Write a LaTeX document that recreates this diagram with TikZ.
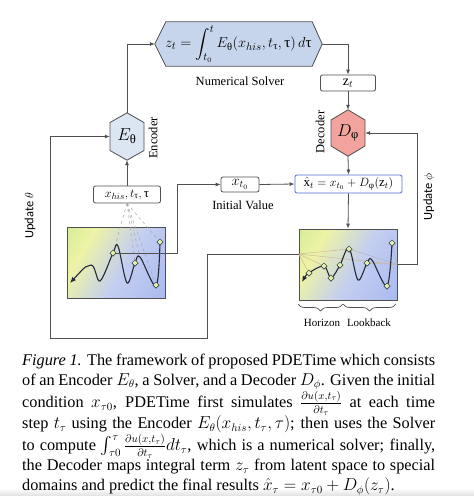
\documentclass[tikz,border=0pt]{standalone}
\usepackage{amsmath}
\usepackage{fontspec}
\setmainfont{Liberation Serif}
\newfontfamily\sansf{Carlito}
\usetikzlibrary{arrows.meta,decorations.pathreplacing,shapes.geometric,calc}
\pgfdeclarelayer{background}
\pgfsetlayers{background,main}
\definecolor{lnc}{HTML}{505050}
\definecolor{solverfill}{HTML}{C7D5EC}
\definecolor{encfill}{HTML}{DCE6F3}
\definecolor{decfill}{HTML}{F2A39D}
\definecolor{xhblue}{HTML}{4C6FD5}
\definecolor{mkfill}{HTML}{DDEFAA}
\definecolor{curvec}{HTML}{252A3A}
\definecolor{pgA}{HTML}{BCE389}
\definecolor{pgB}{HTML}{EEF3A6}
\definecolor{pgC}{HTML}{C3CEF0}
\definecolor{pgD}{HTML}{9DAFEF}
\definecolor{faintc}{HTML}{CDB59A}
\pgfdeclarehorizontalshading{plotshade}{100bp}{color(0bp)=(pgA); color(30bp)=(pgB); color(55bp)=(pgC); color(100bp)=(pgD)}
\newcommand{\upth}{\text{θ}}
\newcommand{\upta}{\text{τ}}
\newcommand{\upph}{\text{φ}}
\tikzset{
  conn/.style={draw=lnc, line width=0.8pt, -{Latex[length=5pt,width=4pt]}},
  box/.style={draw=lnc, line width=0.8pt, rounded corners=2pt, fill=white, inner sep=0pt, font=\fontsize{14}{16}\selectfont},
  hexn/.style={inner sep=0pt, minimum width=34pt, font=\fontsize{18}{20}\selectfont},
  hexpath/.style={draw=lnc, line width=0.8pt},
  solv/.style={inner sep=0pt, minimum width=167pt, minimum height=44pt, font=\fontsize{15}{17}\selectfont},
  lbl/.style={inner sep=0pt, font=\fontsize{12.5}{14}\selectfont},
  smalllbl/.style={inner sep=0pt, font=\fontsize{11}{13}\selectfont},
  upd/.style={inner sep=0pt, font=\sansf\fontsize{12.5}{14}\selectfont},
  plotbox/.style={draw=lnc, line width=0.8pt, minimum width=98pt, minimum height=71pt, inner sep=0pt, shade, shading=plotshade, shading angle=-30},
  curve/.style={draw=curvec, line width=1.1pt},
  mk/.style={diamond, draw=curvec, line width=0.5pt, fill=mkfill, inner sep=0pt, minimum size=6.5pt},
  fanl/.style={draw=gray!70, line width=0.5pt, dashed},
  faint/.style={draw=faintc, line width=0.45pt},
  brc/.style={draw=lnc, line width=0.7pt, decorate, decoration={brace, amplitude=7pt, mirror}}
}
\begin{document}
\begin{tikzpicture}[x=1pt, y=-1pt]
\useasboundingbox (0,0) rectangle (474,496);
\shade[top color=white, bottom color=black!12] (0,488) rectangle (474,496);

% solver
\node[solv] (S) at (238.5,44) {$\displaystyle z_t=\int_{t_0}^{t}E_{\upth}(x_{his},t_{\upta},\upta)\,d\upta$};
\node[lbl] (numsol) at (240,81) {Numerical Solver};

% encoder / decoder
\node[hexn, minimum height=47pt] (E) at (127,136.5) {$E_{\upth}$};
\node[lbl, rotate=90] (encl) at (153,138) {Encoder};
\node[hexn, minimum height=46pt] (D) at (348,133) {$D_{\upph}$};
\node[lbl, rotate=90] (decl) at (320,132) {Decoder};

\begin{pgfonlayer}{background}
\draw[hexpath, fill=solverfill] (S.west) -- ($(S.north west)+(11,0)$) -- ($(S.north east)+(-10,0)$) -- (S.east) -- ($(S.south east)+(-10,0)$) -- ($(S.south west)+(11,0)$) -- cycle;
\draw[hexpath, fill=encfill] (E.north) -- ($(E.center)+(17,-14)$) -- ($(E.center)+(17,14)$) -- (E.south) -- ($(E.center)+(-17,14)$) -- ($(E.center)+(-17,-14)$) -- cycle;
\draw[hexpath, fill=decfill] (D.north) -- ($(D.center)+(17,-13)$) -- ($(D.center)+(17,13)$) -- (D.south) -- ($(D.center)+(-17,13)$) -- ($(D.center)+(-17,-13)$) -- cycle;
\end{pgfonlayer}

% boxes
\node[box, minimum width=55pt, minimum height=16pt] (zt) at (348,83) {$\mathrm{z}_t$};
\node[box, minimum width=67pt, minimum height=17pt, font=\fontsize{13}{15}\selectfont] (xin) at (127,194.5) {$x_{his},t_{\upta},\upta$};
\node[box, minimum width=38pt, minimum height=15pt] (x0) at (240,184.5) {$x_{t_0}$};
\node[lbl] (initv) at (243,205) {Initial Value};
\node[box, draw=xhblue, minimum width=107pt, minimum height=18pt, font=\fontsize{13}{15}\selectfont] (xh) at (348.5,184) {$\hat{\mathrm{x}}_t=x_{t_0}+D_{\upph}(\mathrm{z}_t)$};

% plots
\node[plotbox] (LP) at (116,262.5) {};
\node[plotbox] (RP) at (348,264.5) {};

% markers (positions)
\coordinate (a1) at (113,253);
\coordinate (a2) at (135,263);
\coordinate (a3) at (156,285);
\coordinate (a4) at (160,242);
\coordinate (b1) at (309,273);
\coordinate (b2) at (324,266);
\coordinate (b3) at (331,278);
\coordinate (b4) at (340,265);
\coordinate (b5) at (349,249);
\coordinate (b6) at (367,263);
\coordinate (b7) at (387,286);
\coordinate (b8) at (392,243);
\coordinate (lp) at ($(RP.west)+(0,-10.5)$);

% fan lines
\draw[fanl] (xin.south) -- (a1);
\draw[fanl] (xin.south) -- (a2);
\draw[fanl] (xin.south) -- (a3);
\draw[fanl] (xin.south) -- (a4);
\draw[fanl] (xin.south) -- (140,257);
\draw[faint] (lp) -- (b1);
\draw[faint] (lp) -- (b2);
\draw[faint] (lp) -- (b5);
\draw[faint] (lp) -- (RP.east);
\draw[faint, draw=gray!60] (b5) -- (RP.east);
\draw[faint, draw=gray!60] (b8) -- (RP.east);
\draw[faint] (b6) -- (RP.east);

% curves
\draw[curve, {Latex[length=6pt,width=5pt]}-] plot[smooth, tension=0.55] coordinates {(70,283) (91,265) (100,281) (113,253) (118,246) (127,283) (135,263) (140,257) (156,286) (160,242)};
\draw[curve, {Latex[length=6pt,width=5pt]}-] plot[smooth, tension=0.55] coordinates {(302,282) (309,273) (324,266) (331,278) (340,265) (349,248) (358,280) (367,263) (372,260) (387,286) (392,243)};

% connector from left plot to initial value
\coordinate (j1) at (177,253);
\draw[conn] (a1) -- (j1) |- (x0.west);

% markers
\foreach \m in {a1,a2,a3,a4,b1,b2,b3,b4,b5,b6,b7,b8} \node[mk] (mk\m) at (\m) {};

% connectors
\draw[conn] (E.north) |- (S.west);
\draw[conn] (S.east) -| (zt.north);
\draw[conn] (zt.south) -- (D.north);
\draw[conn] (D.south) -- (xh.north);
\draw[conn] (xh.south) -- (RP.north);
\draw[conn] (xin.north) -- (E.south);
\draw[conn] (x0.east) -- (xh.west);
\coordinate (uphi) at (417,264.5);
\draw[conn] (RP.east) -- (uphi) |- (D.east);
\coordinate (c1) at (207,338);
\coordinate (c2) at (50,338);
\draw[conn] (lp) -| (c1) -- (c2) |- (E.west);
\node[upd, rotate=90] (ut) at (30,216) {Update $\theta$};
\node[upd, rotate=90] (up) at (429,197) {Update $\phi$};

% braces
\draw[brc] (298,304) -- (343,304);
\draw[brc] (343,304) -- (396,304);
\node[smalllbl] (hor) at (322,323) {Horizon};
\node[smalllbl] (look) at (369,323) {Lookback};

% caption
\node[anchor=north west, inner sep=0pt, text width=413pt, align=justify, font=\fontsize{16.3}{20.2}\selectfont] (cap) at (22,353.5) {%
\tolerance=9999\emergencystretch=20pt
\textit{Figure 1.} The framework of proposed PDETime which consists\linebreak
of an Encoder $E_\theta$, a Solver, and a Decoder $D_\phi$. Given the initial\linebreak
condition $x_{\tau0}$, PDETime first simulates $\frac{\partial u(x,t_\tau)}{\partial t_\tau}$ at each time\linebreak
step $t_\tau$ using the Encoder $E_\theta(x_{his},t_\tau,\tau)$; then uses the Solver\linebreak
to compute $\int_{\tau0}^{\tau}\frac{\partial u(x,t_\tau)}{\partial t_\tau}dt_\tau$, which is a numerical solver; finally,\linebreak
the Decoder maps integral term $z_\tau$ from latent space to special\linebreak
domains and predict the final results $\hat{x}_\tau=x_{\tau0}+D_\phi(z_\tau)$.};
\end{tikzpicture}
\end{document}
